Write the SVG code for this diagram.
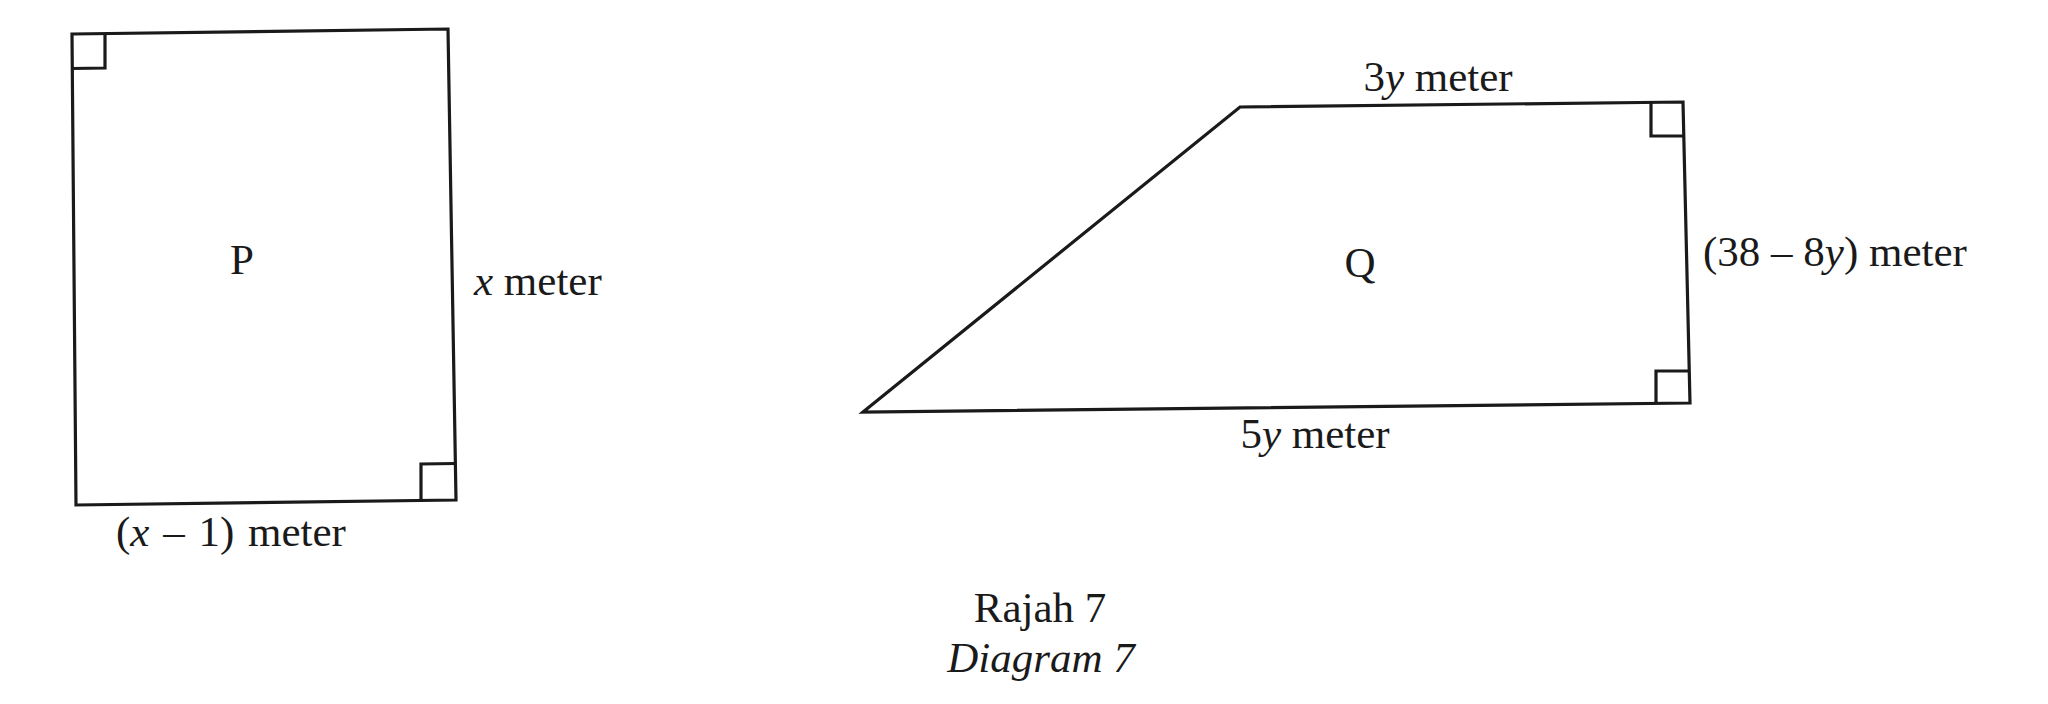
<svg xmlns="http://www.w3.org/2000/svg" width="2048" height="704" viewBox="0 0 2048 704">
<style>
.edge{fill:none;stroke:#1a1a1a;stroke-width:3.2;stroke-linejoin:miter}
.ra{fill:none;stroke:#1a1a1a;stroke-width:3.2}
text{font-family:"Liberation Serif","Times New Roman",serif;font-size:43px;fill:#1a1a1a}
.it{font-style:italic}
.c{text-anchor:middle}
</style>
<rect width="2048" height="704" fill="#ffffff"/>
<g id="shapeP">
<polygon class="edge" points="72,34 448,29 456,500 76,505"/>
<polyline class="ra" points="72,68.5 105,68 105,33.5"/>
<polyline class="ra" points="421,500.5 421,464 455.5,463.5"/>
<text class="c" x="242" y="274">P</text>
<text x="474" y="295"><tspan class="it">x</tspan> meter</text>
<text x="116" y="546" word-spacing="3">(<tspan class="it">x</tspan> – 1) meter</text>
</g>
<g id="shapeQ">
<polygon class="edge" points="863,412 1240,107 1683,102 1690,403"/>
<polyline class="ra" points="1651,102.4 1651,136 1683.5,136"/>
<polyline class="ra" points="1656,403.3 1656,371 1689.6,371"/>
<text class="c" x="1360" y="277">Q</text>
<text class="c" x="1438" y="91">3<tspan class="it">y</tspan> meter</text>
<text x="1703" y="266">(38 – 8<tspan class="it">y</tspan>) meter</text>
<text class="c" x="1315" y="448">5<tspan class="it">y</tspan> meter</text>
</g>
<g id="connectors"></g>
<g id="caption">
<text class="c" x="1040" y="622">Rajah 7</text>
<text class="c it" x="1041" y="672">Diagram 7</text>
</g>
</svg>
